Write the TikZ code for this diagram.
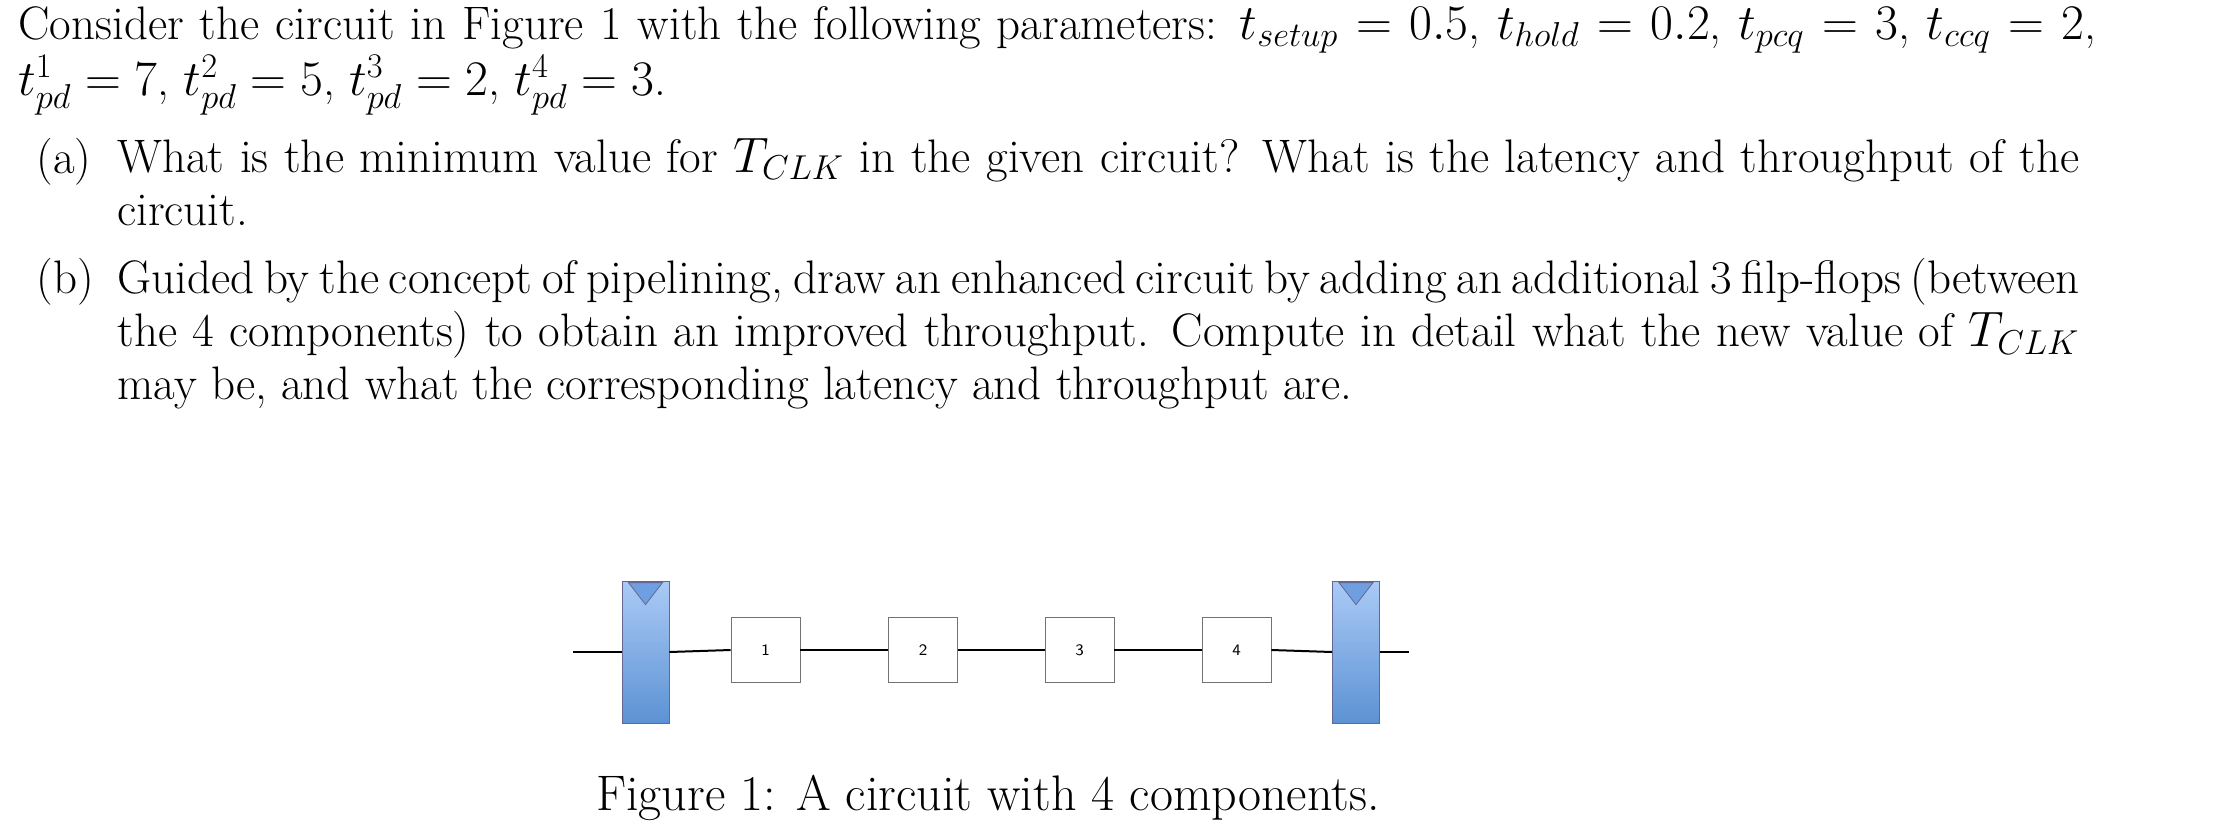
\documentclass[tikz,border=0pt]{standalone}
\begin{document}
\begin{tikzpicture}[x=0.5pt,y=-0.5pt,
  para/.style={anchor=north west,inner sep=0pt,align=justify,font=\fontsize{23.5}{26.5}\selectfont},
  comp/.style={draw=black!55,fill=white,minimum width=34.5pt,minimum height=32.5pt,inner sep=0pt,font=\sffamily\fontsize{8}{9}\selectfont},
  ff/.style={draw=blue!30!black!60,top color={rgb,255:red,170;green,202;blue,245},bottom color={rgb,255:red,92;green,146;blue,212},minimum width=23.5pt,minimum height=71pt,inner sep=0pt},
  clk/.style={draw=blue!30!black!60,fill={rgb,255:red,110;green,160;blue,225}},
  wire/.style={line width=1pt}]
\useasboundingbox (0,0) rectangle (2220,830);
\node[para,text width=1039pt] (p0) at (18,6) {Consider the circuit in Figure 1 with the following parameters: $t_{setup}=0.5$, $t_{hold}=0.2$, $t_{pcq}=3$, $t_{ccq}=2$,\linebreak $t^1_{pd}=7$, $t^2_{pd}=5$, $t^3_{pd}=2$, $t^4_{pd}=3$.};
\node[para] (la) at (36,138) {(a)};
\node[para,text width=981pt] (pa) at (117,138) {What is the minimum value for $T_{CLK}$ in the given circuit? What is the latency and throughput of the\linebreak circuit.};
\node[para] (lb) at (36,258) {(b)};
\node[para,text width=981pt] (pb) at (117,258) {Guided by the concept of pipelining, draw an enhanced circuit by adding an additional 3 filp-flops \mbox{(between}\linebreak the 4 components) to obtain an improved throughput. Compute in detail what the new value of $T_{CLK}$\linebreak may be, and what the corresponding latency and throughput are.};
\coordinate (in) at (573,652);
\coordinate (out) at (1409,652);
\node[ff] (f1) at (645.5,652) {};
\node[ff] (f2) at (1356,652) {};
\node[comp] (c1) at (765.5,650) {1};
\node[comp] (c2) at (923,650) {2};
\node[comp] (c3) at (1079.5,650) {3};
\node[comp] (c4) at (1236.5,650) {4};
\draw[wire] (in) -- (f1.west);
\draw[wire] (f1.east) -- (c1.west);
\draw[wire] (c1.east) -- (c2.west);
\draw[wire] (c2.east) -- (c3.west);
\draw[wire] (c3.east) -- (c4.west);
\draw[wire] (c4.east) -- (f2.west);
\draw[wire] (f2.east) -- (out);
\foreach \f in {f1,f2}{
  \draw[clk] ([xshift=-8.5pt,yshift=-1pt]\f.north) -- ([xshift=8.5pt,yshift=-1pt]\f.north) -- ([yshift=-12pt]\f.north) -- cycle;}
\node[anchor=center,inner sep=0pt,font=\fontsize{25}{28}\selectfont] (cap) at (988,798) {Figure 1: A circuit with 4 components.};
\end{tikzpicture}
\end{document}
